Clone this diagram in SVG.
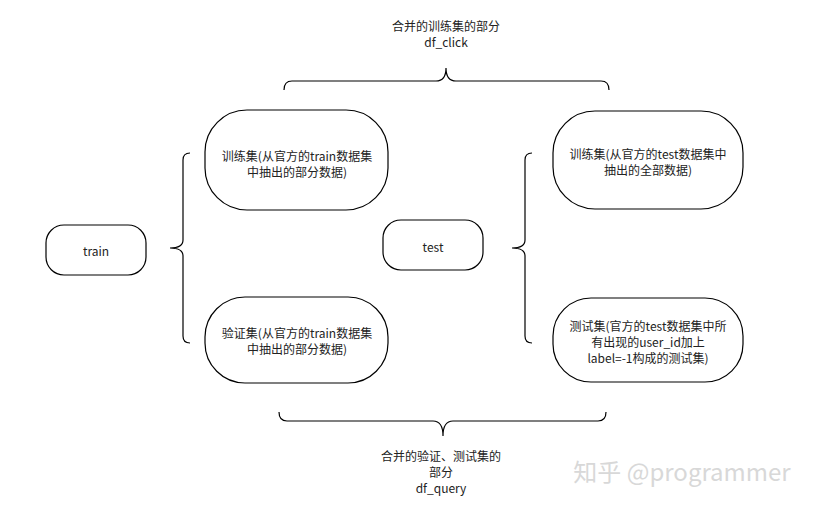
<svg xmlns="http://www.w3.org/2000/svg" width="815" height="509" viewBox="0 0 815 509">
<style>
.n{fill:#fff;stroke:#000;stroke-width:1.2}
.t{font-family:"Noto Sans CJK SC","Noto Sans",sans-serif;font-size:12px;fill:#222;text-anchor:middle}
.b{fill:none;stroke:#000;stroke-width:1.2}
</style>
<rect width="815" height="509" fill="#fff"/>
<g id="connectors">
<path class="b" d="M190,153 Q183,153 183,160 V240 Q183,248 170,248 Q183,248 183,256 V336 Q183,343 190,343"/>
<path class="b" d="M532,153 Q525,153 525,160 V240 Q525,248 512,248 Q525,248 525,256 V336 Q525,343 532,343"/>
<path class="b" d="M284,90 Q284,81 292,81 H436 Q446,81 446,68 Q446,81 456,81 H601 Q609,81 609,90"/>
<path class="b" d="M279,412 Q279,421 287,421 H433 Q443,421 443,436 Q443,421 453,421 H598 Q606,421 606,412"/>
</g>
<g id="train"><rect class="n" x="46" y="225" width="100" height="50" rx="18"/><text class="t" x="96" y="256">train</text></g>
<g id="trainset1"><rect class="n" x="205" y="110" width="183" height="100" rx="42"/><text class="t" x="297" y="161">训练集(从官方的train数据集</text><text class="t" x="297" y="177">中抽出的部分数据)</text></g>
<g id="valset"><rect class="n" x="205" y="297" width="183" height="86" rx="40"/><text class="t" x="297" y="338">验证集(从官方的train数据集</text><text class="t" x="297" y="354">中抽出的部分数据)</text></g>
<g id="test"><rect class="n" x="383" y="220" width="100" height="50" rx="18"/><text class="t" x="433" y="252">test</text></g>
<g id="trainset2"><rect class="n" x="553" y="111" width="190" height="98" rx="42"/><text class="t" x="648" y="159">训练集(从官方的test数据集中</text><text class="t" x="648" y="175">抽出的全部数据)</text></g>
<g id="testset"><rect class="n" x="553" y="298" width="190" height="84" rx="38"/><text class="t" x="648" y="331">测试集(官方的test数据集中所</text><text class="t" x="648" y="347">有出现的user_id加上</text><text class="t" x="648" y="363">label=-1构成的测试集)</text></g>
<g id="toplabel"><text class="t" x="446" y="31">合并的训练集的部分</text><text class="t" x="446" y="47">df_click</text></g>
<g id="bottomlabel"><text class="t" x="441" y="461">合并的验证、测试集的</text><text class="t" x="441" y="477">部分</text><text class="t" x="441" y="493">df_query</text></g>
<text x="682" y="481" style="font-family:'Noto Sans CJK SC','Noto Sans',sans-serif;font-size:24px;fill:#d8d8d8;text-anchor:middle">知乎 @programmer</text>
</svg>
